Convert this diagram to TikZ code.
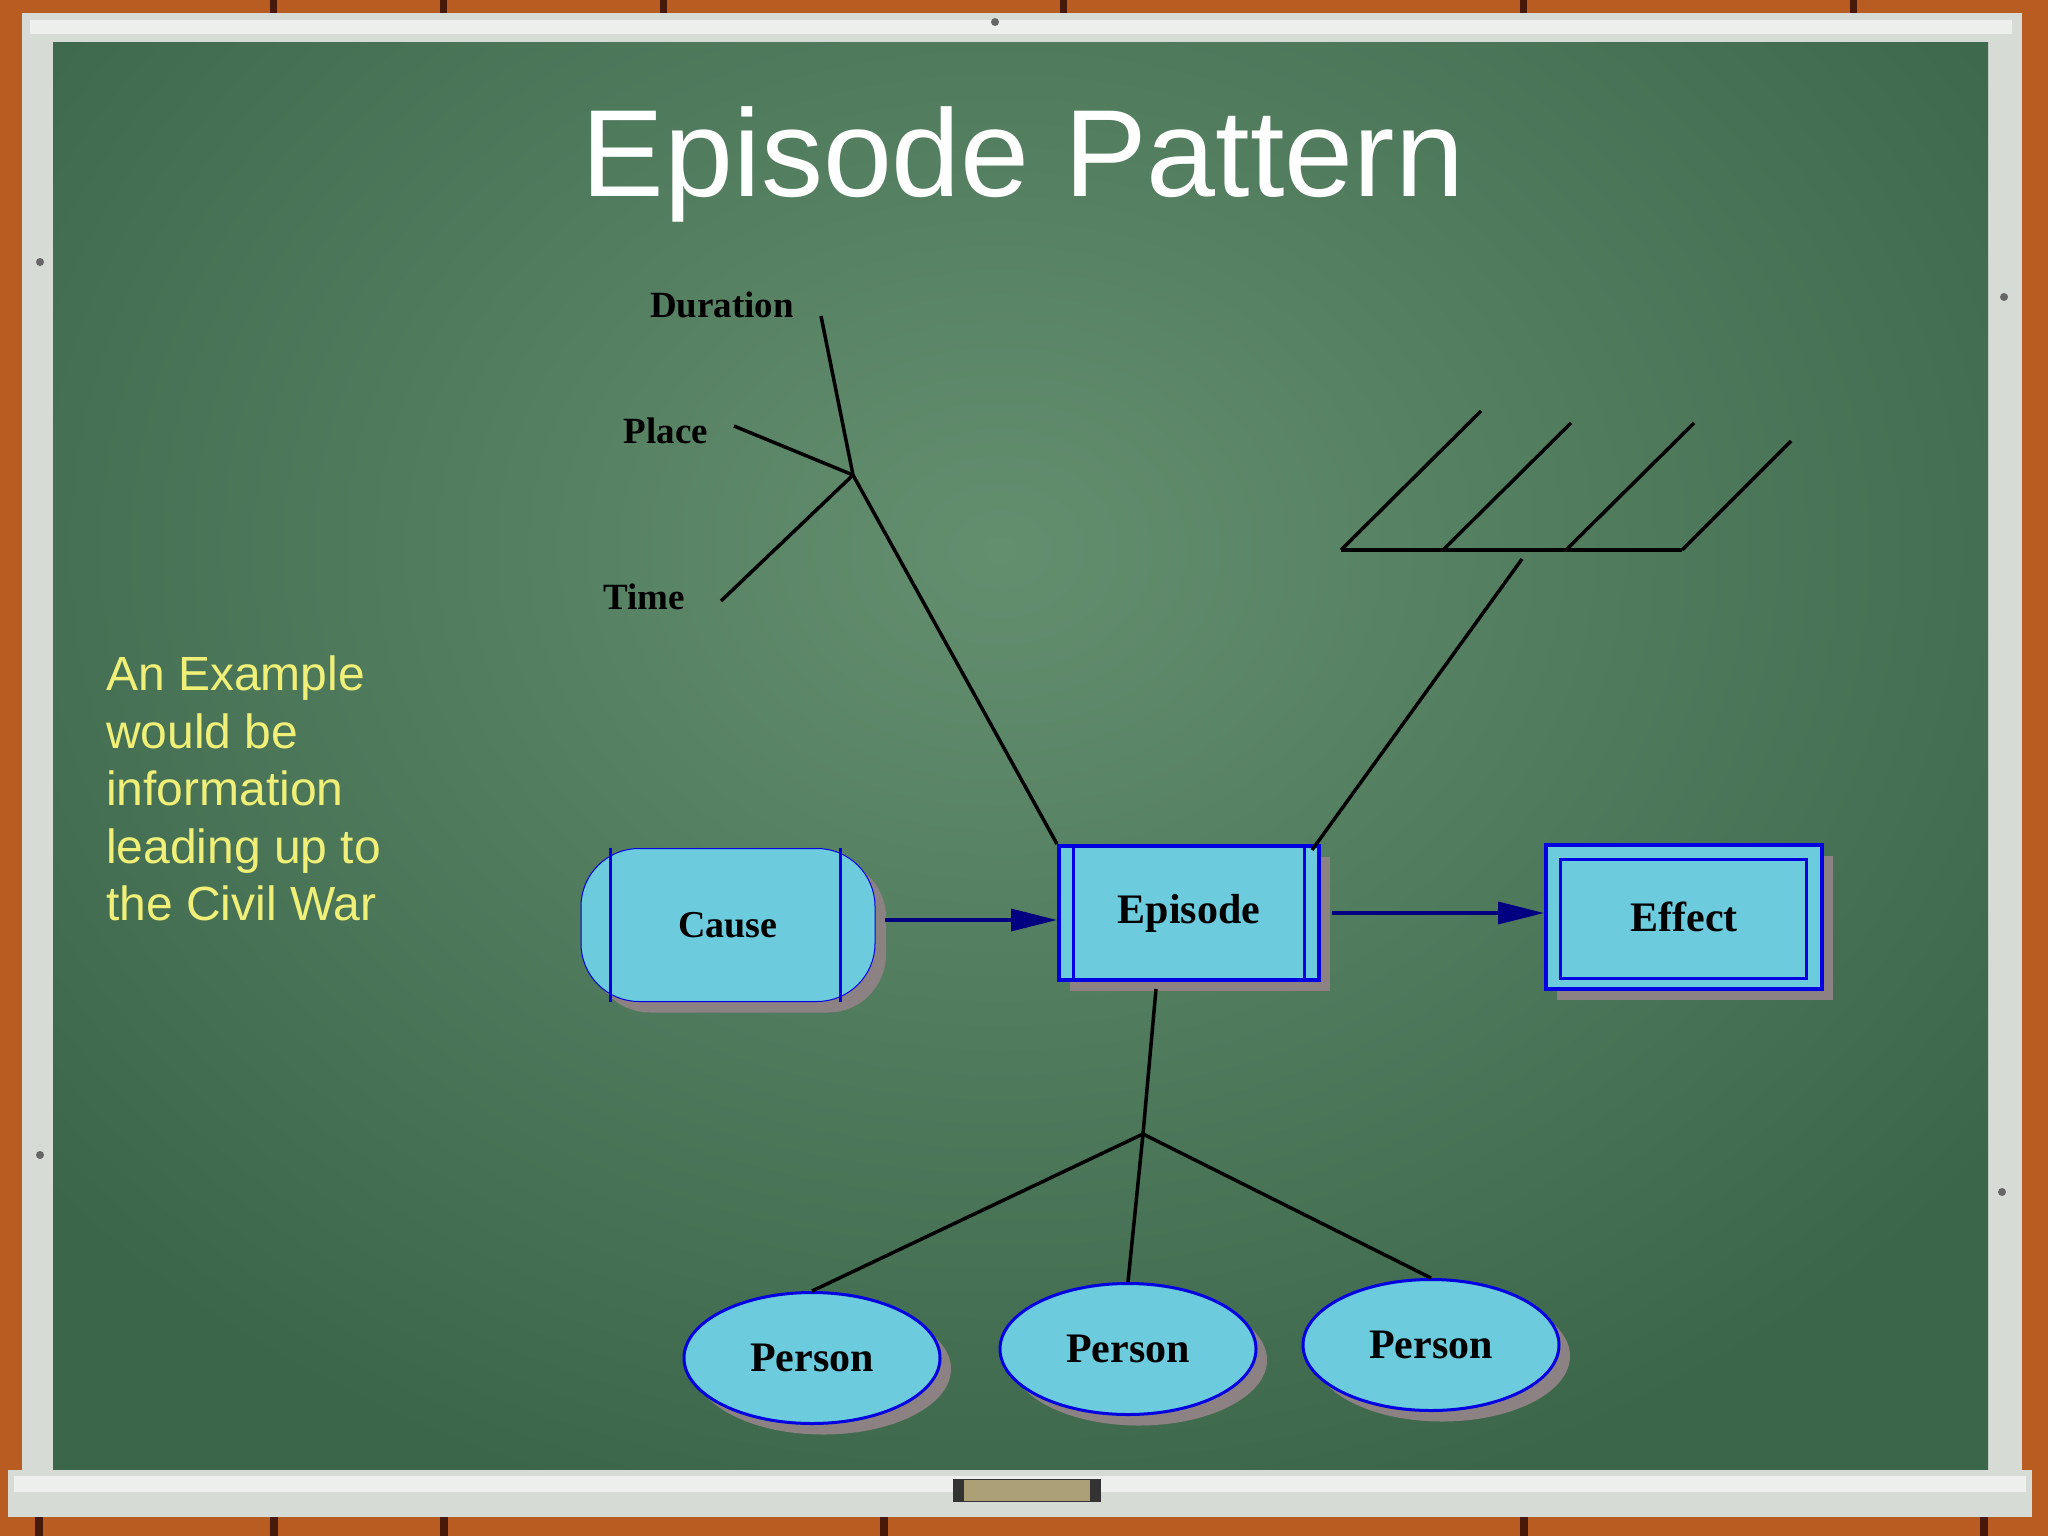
\documentclass[tikz,border=0pt]{standalone}
\usepackage{fontspec}
\setmainfont{Liberation Serif}
\setsansfont{Liberation Sans}
\usetikzlibrary{arrows.meta,positioning,shapes.geometric,shadows}
\definecolor{wood}{RGB}{184,92,34}
\definecolor{wooddark}{RGB}{70,25,10}
\definecolor{frame}{RGB}{214,219,214}
\definecolor{framelight}{RGB}{236,239,236}
\definecolor{boardlight}{RGB}{100,143,111}
\definecolor{boarddark}{RGB}{60,102,74}
\definecolor{boxcyan}{RGB}{108,204,222}
\definecolor{boxblue}{RGB}{0,0,225}
\definecolor{navy}{RGB}{0,0,128}
\definecolor{shadowgray}{RGB}{140,130,132}
\definecolor{chalkyellow}{RGB}{240,240,120}
\definecolor{eraser}{RGB}{172,160,118}

\begin{document}
\begin{tikzpicture}[x=1pt,y=-1pt,
base node/.style={draw=boxblue,fill=boxcyan,font=\fontsize{42}{48}\selectfont\bfseries,
  drop shadow={shadow xshift=11pt,shadow yshift=-11pt,fill=shadowgray,opacity=1}},
person/.style={base node,ellipse,line width=3pt,minimum width=256pt,minimum height=131pt,inner sep=0pt},
label/.style={font=\fontsize{37}{42}\selectfont\bfseries,anchor=base},
stick/.style={black,line width=3.5pt},
flow/.style={navy,line width=3.5pt,-{Triangle[length=46pt,width=22pt]}}]
\useasboundingbox (0,0) rectangle (2048,1536);

% wall, frame and board
\fill[wood] (0,0) rectangle (2048,1536);
\foreach \x in {270,440,660,1060,1520,1850}
  \fill[wooddark] (\x,0) rectangle ++(7,13);
\foreach \x in {35,270,440,880,1520,1980}
  \fill[wooddark] (\x,1517) rectangle ++(8,19);
\fill[frame] (22,13) rectangle (2022,1517);
\fill[framelight] (30,20) rectangle (2012,34);
\begin{scope}
  \clip (53,43) rectangle (1988,1470);
  \shade[inner color=boardlight,outer color=boarddark] (-250,-450) rectangle (2250,1550);
\end{scope}
\fill[frame] (8,1470) rectangle (2032,1517);
\fill[framelight] (14,1476) rectangle (2026,1492);
\fill[black!60] (995,22) circle (4);
\fill[black!60] (40,262) circle (4);
\fill[black!60] (40,1155) circle (4);
\fill[black!60] (2004,297) circle (4);
\fill[black!60] (2002,1192) circle (4);
\fill[black!80] (953,1479) rectangle (1101,1502);
\fill[eraser] (964,1480) rectangle (1090,1501);

% title and note
\node[font=\sffamily\fontsize{124}{130}\selectfont,text=white,anchor=base] (title) at (1023,196) {Episode Pattern};
\node[font=\sffamily\fontsize{48}{57.5}\selectfont,text=chalkyellow,align=left,anchor=north west,inner sep=0pt] (note) at (106,656)
  {An Example\\would be\\information\\leading up to\\the Civil War};

% attributes
\node[label] (duration) at (722,317) {Duration};
\node[label] (place) at (666,443) {Place};
\node[label] (time) at (644,609) {Time};
\coordinate (fork) at (853,475);
\coordinate (durend) at (821,316);
\coordinate (placeend) at (734,426);
\coordinate (timeend) at (721,601);

% main boxes
\node[base node,rectangle,rounded corners=58pt,line width=1pt,minimum width=294pt,minimum height=153pt,
  font=\fontsize{38}{44}\selectfont\bfseries] (cause) at (728,925) {Cause};
\node[base node,rectangle,line width=4pt,minimum width=260pt,minimum height=134pt] (episode) at (1189,913) {Episode};
\node[base node,rectangle,line width=4pt,minimum width=276pt,minimum height=144pt] (effect) at (1684,917) {Effect};

\draw[boxblue,line width=2.5pt] ([xshift=30pt]cause.north west) -- ([xshift=30pt]cause.south west);
\draw[boxblue,line width=2.5pt] ([xshift=-35pt]cause.north east) -- ([xshift=-35pt]cause.south east);
\draw[boxblue,line width=3pt] ([xshift=16pt]episode.north west) -- ([xshift=16pt]episode.south west);
\draw[boxblue,line width=3pt] ([xshift=-17pt]episode.north east) -- ([xshift=-17pt]episode.south east);
\draw[boxblue,line width=3pt] ([shift={(16pt,-16pt)}]effect.north west) rectangle ([shift={(-18pt,13pt)}]effect.south east);

\draw[flow] ([xshift=9pt,yshift=5pt]cause.east) -- ([yshift=5pt]cause.east -| episode.west);
\draw[flow] ([xshift=11pt]episode.east) -- (episode.east -| effect.west);

% persons
\node[person] (person1) at (812,1358) {Person};
\node[person] (person2) at (1128,1349) {Person};
\node[person] (person3) at (1431,1345) {Person};
\coordinate (fork2) at (1143,1134);

% sticks
\draw[stick] (durend) -- (fork);
\draw[stick] (placeend) -- (fork);
\draw[stick] (timeend) -- (fork);
\draw[stick] (fork) -- (episode.north west);
\coordinate (rakebase) at (1522,559);
\draw[stick] ([xshift=-9pt,yshift=-6pt]episode.north east) -- (rakebase);
\draw[stick] (1341,550) -- (1682,550);
\foreach \bx/\tx/\ty in {1341/1481/411,1443/1571/423,1566/1694/423,1682/1791/441}
  \draw[stick] (\bx,550) -- (\tx,\ty);
\draw[stick] ([xshift=-33pt,yshift=-7pt]episode.south) -- (fork2);
\draw[stick] (fork2) -- (person1.north);
\draw[stick] (fork2) -- (person2.north);
\draw[stick] (fork2) -- (person3.north);
\end{tikzpicture}
\end{document}
